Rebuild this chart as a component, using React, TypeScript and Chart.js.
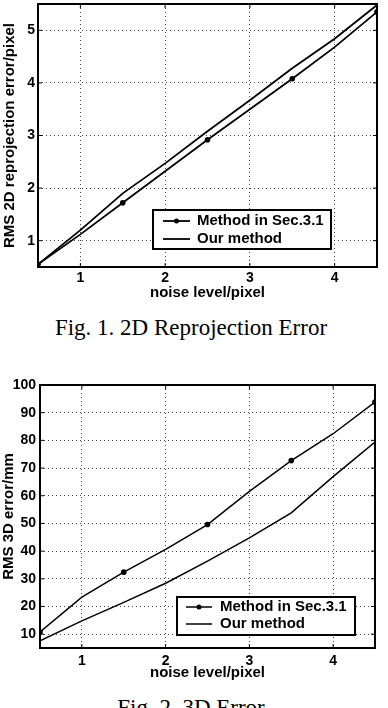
import React, { useEffect, useRef } from "react";
import { Chart, registerables } from "chart.js";

Chart.register(...registerables);

// ---- data ----
const noiseLevels = [0.5, 1, 1.5, 2, 2.5, 3, 3.5, 4, 4.5];
const xTickValues = [1, 2, 3, 4];
const seriesLabels = ["Method in Sec.3.1", "Our method"];

const reprojSec31 = [0.55, 1.12, 1.72, 2.32, 2.92, 3.5, 4.08, 4.68, 5.35];
const reprojOurs = [0.55, 1.2, 1.9, 2.47, 3.08, 3.67, 4.28, 4.84, 5.48];
const reprojYTicks = [1, 2, 3, 4, 5];

const err3dSec31 = [10.8, 23.4, 32.4, 40.6, 49.6, 61.6, 72.7, 82.4, 93.8];
const err3dOurs = [7.6, 14.8, 21.5, 28.4, 36.4, 44.8, 53.8, 66.9, 79.4];
const err3dYTicks = [10, 20, 30, 40, 50, 60, 70, 80, 90, 100];

const FONT = '"Liberation Sans", Arial, sans-serif';

const framePlugin = {
  id: "frame",
  afterDatasetsDraw(chart: any, _args: any, opts: any) {
    const { ctx, chartArea: a } = chart;
    ctx.save();
    ctx.strokeStyle = "#000";
    ctx.lineWidth = 2;
    ctx.setLineDash([]);
    ctx.strokeRect(a.left, a.top, a.right - a.left, a.bottom - a.top);
    const xs = chart.scales.x;
    const ys = chart.scales.y;
    ctx.lineWidth = 1;
    ctx.beginPath();
    xs.ticks.forEach((t: any) => {
      const px = xs.getPixelForValue(t.value);
      ctx.moveTo(px, a.bottom);
      ctx.lineTo(px, a.bottom - 4);
      ctx.moveTo(px, a.top);
      ctx.lineTo(px, a.top + 4);
    });
    ys.ticks.forEach((t: any) => {
      const py = ys.getPixelForValue(t.value);
      ctx.moveTo(a.left, py);
      ctx.lineTo(a.left + 4, py);
      ctx.moveTo(a.right, py);
      ctx.lineTo(a.right - 4, py);
    });
    ctx.stroke();

    const L = opts.box;
    const bx = a.left + L.x;
    const by = a.top + L.y;
    ctx.fillStyle = "#fff";
    ctx.fillRect(bx, by, L.w, L.h);
    ctx.strokeStyle = "#000";
    ctx.lineWidth = 2;
    ctx.strokeRect(bx, by, L.w, L.h);
    chart.data.datasets.forEach((ds: any, i: number) => {
      const y = by + L.row0 + i * L.rowGap;
      ctx.strokeStyle = "#000";
      ctx.lineWidth = ds.borderWidth;
      ctx.beginPath();
      ctx.moveTo(bx + L.lineX, y);
      ctx.lineTo(bx + L.lineX + L.lineLen, y);
      ctx.stroke();
      if (i === 0) {
        ctx.fillStyle = "#000";
        ctx.beginPath();
        ctx.arc(bx + L.lineX + L.lineLen / 2, y, 2.5, 0, Math.PI * 2);
        ctx.fill();
      }
      ctx.fillStyle = "#000";
      ctx.font = `bold 15px ${FONT}`;
      ctx.textBaseline = "middle";
      ctx.textAlign = "left";
      ctx.fillText(ds.label, bx + L.textX, y);
    });
    ctx.restore();
  },
};

function makeConfig(p: any) {
  const markerRadius = (c: any) => (noiseLevels[c.dataIndex] % 1 === 0.5 ? 2.8 : 0);
  return {
    type: "line",
    data: {
      datasets: [
        {
          label: seriesLabels[0],
          data: noiseLevels.map((x, i) => ({ x, y: p.sec31[i] })),
          borderColor: "#000",
          backgroundColor: "#000",
          borderWidth: p.lw,
          pointRadius: markerRadius,
          pointBorderWidth: 0,
          tension: 0,
        },
        {
          label: seriesLabels[1],
          data: noiseLevels.map((x, i) => ({ x, y: p.ours[i] })),
          borderColor: "#000",
          backgroundColor: "#000",
          borderWidth: p.lw,
          pointRadius: 0,
          tension: 0,
        },
      ],
    },
    options: {
      responsive: false,
      animation: false,
      events: [],
      layout: { padding: p.padding },
      plugins: {
        legend: { display: false },
        tooltip: { enabled: false },
        frame: { box: p.box },
      },
      scales: {
        x: {
          type: "linear",
          min: 0.5,
          max: 4.5,
          afterBuildTicks: (s: any) => {
            s.ticks = xTickValues.map((v) => ({ value: v }));
          },
          afterFit: (s: any) => {
            s.height = p.xHeight;
            s.paddingLeft = 0;
            s.paddingRight = 0;
          },
          grid: {
            color: "#444",
            lineWidth: 1,
            drawTicks: false,
          },
          border: { display: false, dash: [1, 3] },
          ticks: {
            color: "#000",
            padding: p.xTickPad,
            font: { family: FONT, size: 14, weight: "bold" },
            maxRotation: 0,
          },
          title: {
            display: true,
            text: "noise level/pixel",
            color: "#000",
            padding: { top: 0, bottom: 0 },
            font: { family: FONT, size: 15, weight: "bold", lineHeight: 1.2 },
          },
        },
        y: {
          type: "linear",
          min: p.yMin,
          max: p.yMax,
          afterBuildTicks: (s: any) => {
            s.ticks = p.yTicks.map((v: number) => ({ value: v }));
          },
          afterFit: (s: any) => {
            s.width = p.yWidth;
            s.paddingTop = 0;
            s.paddingBottom = 0;
          },
          grid: {
            color: "#444",
            lineWidth: 1,
            drawTicks: false,
          },
          border: { display: false, dash: [1, 3] },
          ticks: {
            color: "#000",
            padding: p.yTickPad,
            font: { family: FONT, size: 14, weight: "bold" },
          },
          title: {
            display: true,
            text: p.yTitle,
            color: "#000",
            padding: { top: p.yTitlePad, bottom: 0 },
            font: { family: FONT, size: 15, weight: "bold", lineHeight: 1.2 },
          },
        },
      },
    },
    plugins: [framePlugin],
  };
}

function Plot(props: any) {
  const ref = useRef<HTMLCanvasElement | null>(null);
  useEffect(() => {
    if (!ref.current) return;
    const chart = new Chart(ref.current, makeConfig(props.cfg) as any);
    return () => chart.destroy();
  }, []);
  return (
    <canvas
      ref={ref}
      width={388}
      height={props.h}
      style={{ position: "absolute", left: 0, top: props.top, width: 388, height: props.h }}
    />
  );
}

const captionStyle: any = {
  position: "absolute",
  left: 0,
  width: 382,
  textAlign: "center",
  fontFamily: '"Liberation Serif", "Times New Roman", serif',
  fontSize: 23,
  lineHeight: "23px",
  color: "#000",
  whiteSpace: "nowrap",
};

export default function App() {
  const cfg1 = {
    sec31: reprojSec31,
    ours: reprojOurs,
    yTicks: reprojYTicks,
    yMin: 0.5,
    yMax: 5.5,
    yTitle: "RMS 2D reprojection error/pixel",
    lw: 1.8,
    padding: { top: 0, right: 11, left: 0, bottom: 0 },
    xHeight: 35,
    yWidth: 38,
    xTickPad: 3,
    yTickPad: 3,
    yTitlePad: 1,
    box: { x: 115, y: 206, w: 178, h: 39, row0: 11, rowGap: 18, lineX: 10, lineLen: 27, textX: 44 },
  };
  const cfg2 = {
    sec31: err3dSec31,
    ours: err3dOurs,
    yTicks: err3dYTicks,
    yMin: 5,
    yMax: 100,
    yTitle: "RMS 3D error/mm",
    lw: 1.5,
    padding: { top: 25, right: 13, left: 0, bottom: 0 },
    xHeight: 34,
    yWidth: 40,
    xTickPad: 5,
    yTickPad: 4,
    yTitlePad: 0,
    box: { x: 137, y: 212, w: 178, h: 38, row0: 10, rowGap: 17, lineX: 9, lineLen: 26, textX: 43 },
  };
  return (
    <div style={{ position: "absolute", left: 0, top: 0, width: 388, height: 708, overflow: "hidden", background: "#fff" }}>
      <Plot cfg={cfg1} top={0} h={302} />
      <div style={{ ...captionStyle, top: 316 }}>Fig. 1. 2D Reprojection Error</div>
      <Plot cfg={cfg2} top={360} h={322} />
      <div style={{ ...captionStyle, top: 696 }}>Fig. 2. 3D Error</div>
    </div>
  );
}
